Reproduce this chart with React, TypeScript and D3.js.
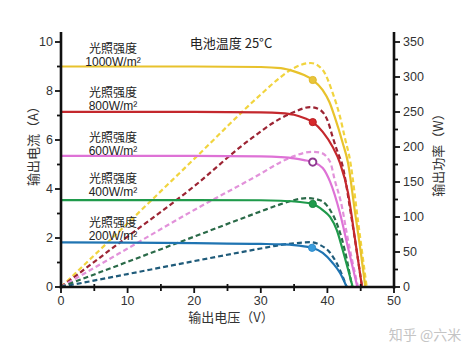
import React from "react";
import * as d3 from "d3";

// ---------- data ----------
const irradiance = ["1000", "800", "600", "400", "200"];

// I-V curves (voltage V, current A)
const ivV1000 = [0, 10, 20, 30, 33, 35, 36.5, 37.8, 39.3, 40.3, 41.1, 42.3, 43.1, 44.1, 45.0, 45.7];
const ivI1000 = [9.0, 9.0, 9.0, 8.98, 8.93, 8.8, 8.65, 8.45, 8.04, 7.55, 6.94, 5.88, 5.06, 3.14, 1.45, 0];
const ivV800 = [0, 10, 20, 30, 33, 35, 36.5, 37.8, 39.3, 40.8, 41.9, 43.1, 44.1, 45.2];
const ivI800 = [7.15, 7.15, 7.15, 7.13, 7.1, 7.03, 6.9, 6.73, 6.33, 5.71, 5.06, 3.84, 2.04, 0];
const ivV600 = [0, 10, 20, 30, 33, 35, 36.5, 37.8, 39.3, 40.4, 41.9, 43.1, 44.5];
const ivI600 = [5.35, 5.35, 5.35, 5.33, 5.3, 5.25, 5.18, 5.1, 4.86, 4.3, 3.0, 1.6, 0];
const ivV400 = [0, 10, 20, 30, 33, 35, 36.5, 37.8, 39.3, 40.4, 41.4, 42.3, 43.8];
const ivI400 = [3.55, 3.55, 3.55, 3.54, 3.52, 3.49, 3.45, 3.39, 3.14, 2.86, 2.33, 1.51, 0];
const ivV200 = [0, 10, 20, 30, 33, 35, 36.5, 37.7, 39.3, 40.8, 41.9, 42.9];
const ivI200 = [1.82, 1.81, 1.79, 1.76, 1.74, 1.71, 1.66, 1.6, 1.39, 0.98, 0.57, 0];

// P-V curves (voltage V, power W)
const pvV1000 = [0, 10, 20, 30, 33, 35, 37.5, 39.3, 40.8, 41.9, 42.6, 43.4, 44.6, 45.9];
const pvP1000 = [0, 91, 183, 275, 300, 313, 320, 310, 277, 243, 214, 181, 94, 0];
const pvV800 = [0, 10, 20, 28, 33, 35, 37.4, 38.9, 40.1, 40.8, 41.6, 42.2, 43.5, 45.2];
const pvP800 = [0, 72, 144, 208, 241, 250, 257, 253, 236, 214, 191, 176, 106, 0];
const pvV600 = [0, 10, 20, 30, 32.9, 35, 37.6, 38.9, 40.4, 41.1, 42.2, 42.9, 44.6];
const pvP600 = [0, 55, 110, 162, 178, 187, 193, 192, 179, 153, 114, 77, 0];
const pvV400 = [0, 10, 20, 30, 32.9, 34.9, 36.9, 38.9, 40.4, 41.6, 42.6, 43.7];
const pvP400 = [0, 36, 72, 108, 118, 124, 127, 124, 110, 86, 53, 0];
const pvV200 = [0, 10, 20, 30, 32.9, 35, 37.4, 38.9, 40.4, 41.4, 42.9];
const pvP200 = [0, 18.5, 37, 55, 60, 62.5, 64, 60, 49, 34, 0];

// maximum power points
const mppV = [37.8, 37.8, 37.8, 37.8, 37.7];
const mppI = [8.45, 6.73, 5.1, 3.39, 1.6];

const xTicks = [0, 10, 20, 30, 40, 50];
const yTicks = [0, 2, 4, 6, 8, 10];
const pTicks = [0, 50, 100, 150, 200, 250, 300, 350];

// ---------- styles ----------
const solidColors = ["#e8c22c", "#c4282d", "#de72d6", "#1f9a4b", "#1f74b2"];
const dashColors = ["#f1d43e", "#9c2433", "#e292da", "#2a6a48", "#1f5b7a"];
const markerFill = ["#e8c53a", "#d8282b", "#ffffff", "#1f9a4b", "#3a9cdc"];
const markerStroke = ["#e0b82a", "#b81f22", "#8f3a90", "#1a8a42", "#2e8ccc"];

const ivV = [ivV1000, ivV800, ivV600, ivV400, ivV200];
const ivI = [ivI1000, ivI800, ivI600, ivI400, ivI200];
const pvV = [pvV1000, pvV800, pvV600, pvV400, pvV200];
const pvP = [pvP1000, pvP800, pvP600, pvP400, pvP200];

const W = 474;
const H = 355;
const x = d3.scaleLinear().domain([0, 50]).range([61, 394]);
const yI = d3.scaleLinear().domain([0, 10]).range([287, 42]);
const yP = d3.scaleLinear().domain([0, 350]).range([287, 42]);

const num = '"Liberation Sans", Arial, "Noto Sans CJK SC", sans-serif';
const cjk = '"Noto Sans CJK SC", "Liberation Sans", sans-serif';

export default function App() {
  const lineI = d3
    .line<[number, number]>()
    .x((d) => x(d[0]))
    .y((d) => yI(d[1]))
    .curve(d3.curveMonotoneX);
  const lineP = d3
    .line<[number, number]>()
    .x((d) => x(d[0]))
    .y((d) => yP(d[1]))
    .curve(d3.curveMonotoneX);

  const labelTop = [53, 97, 142, 183, 227];
  const yMinor = d3.range(1, 10, 2);
  const pMinor = d3.range(25, 350, 50);
  const xMinor = d3.range(5, 50, 10);

  return (
    <svg
      width={W}
      height={H}
      style={{ position: "absolute", left: 0, top: 0, background: "#fff" }}
    >
      <rect x={0} y={0} width={W} height={H} fill="#fff" />

      {/* dashed power curves */}
      {pvV.map((vs, k) => (
        <path
          key={"p" + k}
          d={lineP(vs.map((v, i) => [v, pvP[k][i]] as [number, number])) || ""}
          fill="none"
          stroke={dashColors[k]}
          strokeWidth={2.2}
          strokeDasharray="5,3"
        />
      ))}

      {/* solid I-V curves */}
      {ivV.map((vs, k) => (
        <path
          key={"i" + k}
          d={lineI(vs.map((v, i) => [v, ivI[k][i]] as [number, number])) || ""}
          fill="none"
          stroke={solidColors[k]}
          strokeWidth={2.2}
        />
      ))}

      {/* MPP markers */}
      {mppV.map((v, k) => (
        <circle
          key={"m" + k}
          cx={x(v)}
          cy={yI(mppI[k])}
          r={3.6}
          fill={markerFill[k]}
          stroke={markerStroke[k]}
          strokeWidth={k === 2 ? 2 : 1}
        />
      ))}

      {/* axes */}
      <line x1={x(0)} x2={x(0)} y1={32} y2={yI(0) + 1.5} stroke="#111" strokeWidth={2.6} />
      <line x1={x(50)} x2={x(50)} y1={32} y2={yI(0) + 1.5} stroke="#111" strokeWidth={2.6} />
      <line x1={x(0) - 1.3} x2={x(50) + 1.3} y1={yI(0)} y2={yI(0)} stroke="#111" strokeWidth={2.6} />

      {/* left ticks */}
      {yTicks.map((t) => (
        <g key={"yl" + t}>
          <line x1={x(0) - 6} x2={x(0)} y1={yI(t)} y2={yI(t)} stroke="#111" strokeWidth={1.8} />
          <text
            x={x(0) - 8}
            y={yI(t)}
            dy="0.35em"
            textAnchor="end"
            fontFamily={num}
            fontSize={12.5}
            fill="#333"
          >
            {t}
          </text>
        </g>
      ))}
      {yMinor.map((t) => (
        <line key={"ym" + t} x1={x(0) - 4} x2={x(0)} y1={yI(t)} y2={yI(t)} stroke="#111" strokeWidth={1.8} />
      ))}

      {/* right ticks */}
      {pTicks.map((t) => (
        <g key={"pr" + t}>
          <line x1={x(50)} x2={x(50) + 6} y1={yP(t)} y2={yP(t)} stroke="#111" strokeWidth={1.8} />
          <text
            x={x(50) + 9}
            y={yP(t)}
            dy="0.35em"
            textAnchor="start"
            fontFamily={num}
            fontSize={12.5}
            fill="#333"
          >
            {t}
          </text>
        </g>
      ))}
      {pMinor.map((t) => (
        <line key={"pm" + t} x1={x(50)} x2={x(50) + 4} y1={yP(t)} y2={yP(t)} stroke="#111" strokeWidth={1.8} />
      ))}

      {/* bottom ticks */}
      {xTicks.map((t) => (
        <g key={"xt" + t}>
          <line x1={x(t)} x2={x(t)} y1={yI(0)} y2={yI(0) + 6} stroke="#111" strokeWidth={1.8} />
          <text
            x={x(t)}
            y={yI(0) + 18}
            textAnchor="middle"
            fontFamily={num}
            fontSize={12.5}
            fill="#333"
          >
            {t}
          </text>
        </g>
      ))}
      {xMinor.map((t) => (
        <line key={"xm" + t} x1={x(t)} x2={x(t)} y1={yI(0) - 3} y2={yI(0) + 4} stroke="#111" strokeWidth={1.8} />
      ))}

      {/* axis titles */}
      <text x={231} y={322} textAnchor="middle" fontFamily={cjk} fontSize={13} fill="#333">
        输出电压（V）
      </text>
      <text
        transform="translate(38,143) rotate(-90)"
        textAnchor="middle"
        fontFamily={cjk}
        fontSize={13}
        fill="#333"
      >
        输出电流（A）
      </text>
      <text
        transform="translate(443,152) rotate(-90)"
        textAnchor="middle"
        fontFamily={cjk}
        fontSize={13}
        fill="#333"
      >
        输出功率（W）
      </text>

      {/* title */}
      <text x={231} y={48} textAnchor="middle" fontFamily={cjk} fontSize={13} fill="#222">
        电池温度 25°C
      </text>

      {/* irradiance labels */}
      {irradiance.map((r, k) => (
        <g key={"lab" + k}>
          <text x={113} y={labelTop[k]} textAnchor="middle" fontFamily={cjk} fontSize={12} fill="#222">
            光照强度
          </text>
          <text x={113} y={labelTop[k] + 13} textAnchor="middle" fontFamily={num} fontSize={12} fill="#222">
            {r + "W/m²"}
          </text>
        </g>
      ))}

      {/* watermark */}
      <text x={425} y={340} textAnchor="middle" fontFamily={cjk} fontSize={14} fill="#c4c4c4">
        知乎 @六米
      </text>
    </svg>
  );
}
